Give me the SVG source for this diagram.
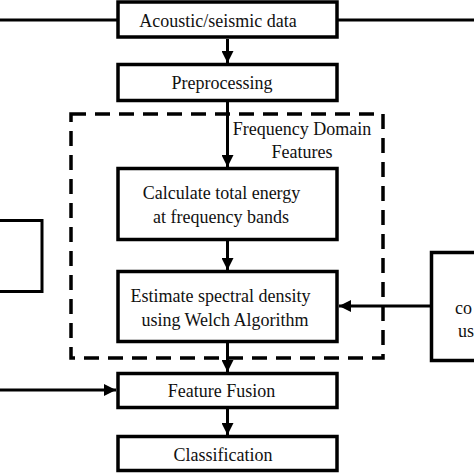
<svg xmlns="http://www.w3.org/2000/svg" width="474" height="474" viewBox="0 0 474 474">
<style>
.box{fill:#fff;stroke:#000;stroke-width:3.5}
.t{font-family:"Liberation Serif","Times New Roman",serif;font-size:18px;fill:#111;text-anchor:middle}
.ts{font-family:"Liberation Serif","Times New Roman",serif;font-size:18px;fill:#111}
.ln{stroke:#000;stroke-width:3;fill:none}
.dash{fill:none;stroke:#000;stroke-width:3.5;stroke-dasharray:15 9}
</style>
<defs>
<marker id="ah" markerUnits="userSpaceOnUse" markerWidth="12" markerHeight="12" viewBox="0 0 10 10" refX="10" refY="5" orient="auto">
<path d="M0,0 L10,5 L0,10 Z" fill="#000"/>
</marker>
</defs>
<rect width="474" height="474" fill="#fff"/>
<g id="group-frequency">
<rect class="dash" x="71" y="114" width="312" height="244"/>
<text class="t" x="302" y="135">Frequency Domain</text>
<text class="t" x="302" y="158">Features</text>
</g>
<g id="connectors">
<line class="ln" x1="0" y1="20" x2="117" y2="20"/>
<line class="ln" x1="338" y1="20" x2="474" y2="20"/>
<line class="ln" x1="227.5" y1="39" x2="227.5" y2="63" marker-end="url(#ah)"/>
<line class="ln" x1="227.5" y1="102" x2="227.5" y2="167" marker-end="url(#ah)"/>
<line class="ln" x1="227.5" y1="241" x2="227.5" y2="270" marker-end="url(#ah)"/>
<line class="ln" x1="227.5" y1="343" x2="227.5" y2="372" marker-end="url(#ah)"/>
<line class="ln" x1="227.5" y1="409" x2="227.5" y2="435" marker-end="url(#ah)"/>
<line class="ln" x1="430" y1="306" x2="339" y2="306" marker-end="url(#ah)"/>
<line class="ln" x1="0" y1="390" x2="116" y2="390" marker-end="url(#ah)"/>
</g>
<g id="node-acoustic">
<rect class="box" x="118" y="2" width="219" height="35"/>
<text class="t" x="218" y="27">Acoustic/seismic data</text>
</g>
<g id="node-preprocessing">
<rect class="box" x="118" y="64.5" width="219" height="36"/>
<text class="t" x="222" y="89">Preprocessing</text>
</g>
<g id="node-energy">
<rect class="box" x="118" y="168.5" width="219" height="71"/>
<text class="t" x="221.5" y="199">Calculate total energy</text>
<text class="t" x="221" y="223">at frequency bands</text>
</g>
<g id="node-welch">
<rect class="box" x="118" y="271.5" width="219" height="70"/>
<text class="t" x="220.5" y="302">Estimate spectral density</text>
<text class="t" x="225" y="326">using Welch Algorithm</text>
</g>
<g id="node-fusion">
<rect class="box" x="118" y="373.5" width="219" height="34"/>
<text class="t" x="221.5" y="397">Feature Fusion</text>
</g>
<g id="node-classification">
<rect class="box" x="118" y="436.5" width="219" height="34"/>
<text class="t" x="223" y="461">Classification</text>
</g>
<g id="node-left">
<rect class="box" x="-10" y="220.5" width="52" height="71" style="stroke-width:3"/>
</g>
<g id="node-right">
<rect class="box" x="431.5" y="252.5" width="80" height="108"/>
<text class="ts" x="455" y="314">co</text>
<text class="ts" x="458" y="337">us</text>
</g>
</svg>
